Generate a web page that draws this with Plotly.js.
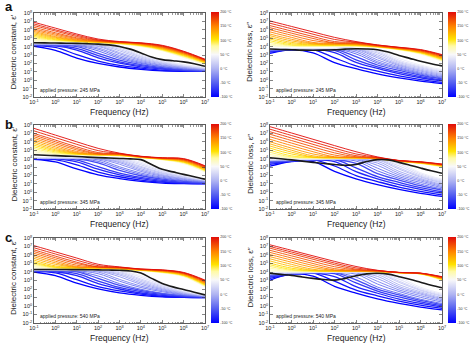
<!DOCTYPE html>
<html><head><meta charset="utf-8">
<script src="https://cdn.plot.ly/plotly-3.0.1.min.js"></script>
<style>html,body{margin:0;padding:0;background:#fff}#chart{width:474px;height:353px}</style>
</head><body><div id="chart"></div>
<script>
// ---- data (values stored as log10 of the quantity) ----
const freqHz = [0.1,1,10,100,1000,1e4,1e5,1e6,1e7];
const freqHzHalf = [0.1,0.3162,1,3.162,10,31.62,100,316.2,1000,3162,1e4,31623,1e5,316228,1e6,3162278,1e7];
const temperaturesC = [-100,-90,-80,-70,-60,-50,-40,-30,-20,-10,0,10,20,30,40,60,70,80,90,100,110,120,130,140,150,160,170,180,190,200];
const blackTempC = 50;
const pressuresMPa = [245,345,540];
const colorbarTicks = [-100,-50,0,50,100,150,200];

const aConstLog = [
[4.04,3.55,2.64,2.0,1.57,1.29,1.11,1.06,1.05],
[4.12,3.9,3.05,2.28,1.76,1.43,1.18,1.09,1.06],
[4.14,4.08,3.59,2.67,2.02,1.59,1.32,1.13,1.08],
[4.16,4.13,3.79,2.93,2.19,1.73,1.39,1.17,1.11],
[4.18,4.18,3.99,3.19,2.39,1.86,1.49,1.24,1.12],
[4.2,4.2,4.11,3.49,2.59,2.0,1.6,1.32,1.16],
[4.22,4.22,4.16,3.69,2.76,2.1,1.64,1.36,1.17],
[4.25,4.25,4.22,3.84,2.94,2.22,1.75,1.43,1.21],
[4.27,4.27,4.26,4.02,3.14,2.35,1.82,1.51,1.26],
[4.3,4.3,4.29,4.11,3.29,2.47,1.93,1.55,1.3],
[4.32,4.32,4.31,4.19,3.5,2.61,2.01,1.63,1.34],
[4.34,4.34,4.33,4.24,3.67,2.75,2.08,1.67,1.38],
[4.36,4.36,4.35,4.3,3.82,2.86,2.19,1.71,1.43],
[4.38,4.38,4.37,4.33,3.93,3.0,2.27,1.82,1.5],
[4.4,4.4,4.39,4.35,4.08,3.15,2.38,1.87,1.55],
[4.62,4.6,4.54,4.45,4.3,4.0,3.5,2.7,1.88],
[4.75,4.65,4.56,4.46,4.32,4.04,3.53,2.75,1.93],
[4.9,4.7,4.58,4.47,4.34,4.07,3.57,2.8,1.98],
[5.05,4.75,4.6,4.48,4.36,4.1,3.6,2.86,2.03],
[5.2,4.82,4.62,4.5,4.38,4.14,3.65,2.92,2.08],
[5.35,4.9,4.65,4.52,4.4,4.17,3.7,2.98,2.13],
[5.5,5.0,4.68,4.55,4.42,4.2,3.75,3.05,2.18],
[5.65,5.1,4.72,4.57,4.44,4.24,3.8,3.1,2.22],
[5.8,5.2,4.78,4.6,4.46,4.27,3.85,3.15,2.26],
[5.95,5.35,4.85,4.62,4.48,4.3,3.9,3.2,2.3],
[6.1,5.5,4.95,4.65,4.5,4.34,3.95,3.25,2.34],
[6.3,5.65,5.05,4.7,4.53,4.37,4.0,3.3,2.38],
[6.5,5.85,5.2,4.75,4.55,4.4,4.05,3.35,2.42],
[6.7,6.0,5.35,4.8,4.57,4.42,4.1,3.4,2.46],
[6.9,6.2,5.5,4.9,4.6,4.45,4.15,3.45,2.5]];
const aConstBlackLog = [4.45,4.44,4.42,4.4,4.38,4.35,4.3,4.2,4.02,3.7,3.25,2.75,2.45,2.32,2.18,1.95,1.65];

const aLossLog = [
[3.2,3.6,3.25,2.1,1.38,0.75,0.27,-0.11,-0.41],
[3.35,3.62,3.65,2.66,1.71,1.07,0.51,0.08,-0.25],
[3.45,3.62,3.7,3.27,2.12,1.4,0.77,0.29,-0.09],
[3.5,3.63,3.7,3.55,2.43,1.59,0.95,0.43,0.02],
[3.55,3.64,3.7,3.71,2.81,1.81,1.17,0.59,0.15],
[3.58,3.65,3.71,3.74,3.13,2.03,1.34,0.72,0.26],
[3.6,3.66,3.72,3.75,3.35,2.2,1.46,0.82,0.34],
[3.62,3.67,3.72,3.76,3.54,2.41,1.59,0.94,0.43],
[3.63,3.68,3.73,3.76,3.68,2.66,1.73,1.08,0.54],
[3.64,3.69,3.73,3.76,3.75,2.84,1.84,1.2,0.66],
[3.65,3.7,3.74,3.77,3.77,3.03,1.97,1.33,0.76],
[3.66,3.7,3.74,3.77,3.78,3.23,2.11,1.46,0.88],
[3.67,3.71,3.75,3.78,3.78,3.38,2.23,1.57,1.0],
[3.68,3.72,3.75,3.78,3.78,3.53,2.38,1.68,1.12],
[3.7,3.73,3.76,3.78,3.78,3.64,2.58,1.8,1.25],
[4.0,4.0,4.0,4.0,3.98,3.9,3.6,3.1,2.25],
[4.15,4.03,4.02,4.02,4.02,3.92,3.62,3.14,2.31],
[4.3,4.08,4.06,4.06,4.05,3.94,3.64,3.18,2.36],
[4.5,4.14,4.1,4.1,4.09,3.95,3.66,3.22,2.42],
[4.7,4.22,4.15,4.14,4.13,3.97,3.69,3.26,2.48],
[4.9,4.35,4.21,4.18,4.17,3.99,3.71,3.3,2.54],
[5.1,4.5,4.27,4.22,4.2,4.01,3.73,3.34,2.59],
[5.3,4.68,4.33,4.26,4.24,4.03,3.75,3.38,2.65],
[5.5,4.87,4.4,4.3,4.28,4.04,3.77,3.41,2.71],
[5.75,5.1,4.5,4.35,4.31,4.06,3.79,3.45,2.76],
[6.0,5.35,4.72,4.42,4.36,4.08,3.81,3.49,2.82],
[6.25,5.6,4.97,4.45,4.39,4.12,3.85,3.53,2.88],
[6.5,5.85,5.2,4.6,4.48,4.15,3.88,3.57,2.94],
[6.78,6.13,5.48,4.85,4.52,4.18,3.9,3.61,2.99],
[7.05,6.4,5.75,5.1,4.6,4.2,3.92,3.65,3.05]];
const aLossBlackLog = [3.72,3.66,3.62,3.58,3.57,3.58,3.62,3.7,3.75,3.72,3.62,3.35,2.95,2.6,2.25,1.95,1.7];

const bConstLog = [
[3.92,3.6,2.77,2.06,1.62,1.3,1.09,1.02,1.0],
[3.97,3.88,3.26,2.4,1.84,1.45,1.19,1.05,1.02],
[3.99,3.96,3.6,2.74,2.06,1.61,1.3,1.11,1.04],
[4.0,4.0,3.82,3.05,2.28,1.77,1.42,1.18,1.06],
[4.02,4.02,3.96,3.48,2.59,1.96,1.55,1.28,1.1],
[4.03,4.03,4.0,3.67,2.84,2.12,1.68,1.35,1.14],
[4.04,4.04,4.03,3.85,3.03,2.28,1.78,1.43,1.19],
[4.05,4.05,4.04,3.96,3.33,2.47,1.9,1.52,1.25],
[4.06,4.06,4.05,4.0,3.52,2.63,2.0,1.59,1.32],
[4.07,4.07,4.06,4.03,3.65,2.79,2.1,1.65,1.36],
[4.08,4.08,4.07,4.05,3.78,2.95,2.23,1.76,1.39],
[4.09,4.09,4.08,4.06,3.9,3.07,2.33,1.82,1.42],
[4.1,4.1,4.09,4.07,3.98,3.26,2.45,1.88,1.44],
[4.11,4.11,4.1,4.08,4.02,3.43,2.54,1.92,1.47],
[4.12,4.12,4.11,4.09,4.06,3.58,2.67,2.0,1.5],
[4.6,4.48,4.45,4.4,4.3,4.1,3.85,3.4,2.4],
[4.8,4.52,4.46,4.41,4.32,4.11,3.87,3.44,2.45],
[5.0,4.58,4.47,4.42,4.34,4.12,3.89,3.49,2.51],
[5.2,4.68,4.49,4.43,4.36,4.13,3.9,3.53,2.56],
[5.4,4.8,4.52,4.44,4.39,4.14,3.92,3.57,2.61],
[5.6,4.93,4.55,4.45,4.41,4.15,3.94,3.61,2.67],
[5.8,5.06,4.6,4.47,4.43,4.16,3.96,3.66,2.72],
[6.0,5.22,4.65,4.48,4.45,4.18,3.98,3.7,2.78],
[6.2,5.4,4.72,4.5,4.47,4.19,3.99,3.74,2.83],
[6.4,5.6,4.85,4.52,4.49,4.2,4.01,3.79,2.88],
[6.6,5.8,5.03,4.56,4.51,4.21,4.03,3.83,2.94],
[6.8,6.0,5.2,4.6,4.53,4.22,4.05,3.87,2.99],
[7.0,6.2,5.4,4.72,4.56,4.24,4.06,3.91,3.04],
[7.3,6.5,5.7,4.95,4.6,4.26,4.08,3.96,3.1],
[7.6,6.8,6.0,5.22,4.65,4.28,4.1,4.0,3.15]];
const bConstBlackLog = [4.45,4.4,4.35,4.3,4.25,4.18,4.12,4.07,4.02,3.97,3.88,3.3,2.72,2.42,2.12,1.85,1.55];

const bLossLog = [
[3.1,3.65,3.65,2.48,1.59,0.9,0.33,-0.13,-0.49],
[3.3,3.68,3.85,3.12,1.98,1.27,0.61,0.1,-0.31],
[3.45,3.7,3.84,3.64,2.46,1.59,0.89,0.33,-0.12],
[3.55,3.72,3.85,3.87,2.9,1.86,1.17,0.54,0.05],
[3.62,3.74,3.86,3.89,3.42,2.22,1.45,0.77,0.24],
[3.68,3.76,3.87,3.9,3.71,2.54,1.65,0.96,0.39],
[3.72,3.78,3.88,3.91,3.88,2.86,1.84,1.16,0.54],
[3.75,3.8,3.89,3.92,3.93,3.19,2.05,1.34,0.68],
[3.77,3.82,3.9,3.93,3.94,3.46,2.26,1.49,0.81],
[3.79,3.84,3.91,3.94,3.95,3.68,2.48,1.63,0.93],
[3.81,3.86,3.92,3.95,3.96,3.85,2.75,1.79,1.09],
[3.83,3.88,3.93,3.96,3.97,3.93,2.91,1.89,1.21],
[3.85,3.9,3.94,3.97,3.98,3.98,3.13,2.03,1.33],
[3.87,3.92,3.95,3.98,3.99,3.99,3.35,2.18,1.44],
[3.89,3.94,3.96,3.99,4.0,4.0,3.52,2.32,1.55],
[4.1,4.06,4.05,4.05,4.04,3.95,3.65,3.4,3.0],
[4.3,4.09,4.07,4.06,4.05,3.96,3.66,3.42,3.03],
[4.5,4.13,4.08,4.07,4.06,3.97,3.66,3.43,3.05],
[4.75,4.2,4.1,4.08,4.07,3.98,3.67,3.45,3.08],
[5.0,4.33,4.12,4.09,4.08,3.99,3.68,3.46,3.1],
[5.25,4.55,4.15,4.1,4.09,4.0,3.69,3.48,3.13],
[5.5,4.77,4.2,4.11,4.09,4.01,3.69,3.49,3.15],
[5.75,5.0,4.33,4.13,4.1,4.03,3.7,3.51,3.18],
[6.0,5.25,4.55,4.16,4.11,4.04,3.71,3.53,3.2],
[6.3,5.55,4.82,4.22,4.13,4.05,3.71,3.54,3.23],
[6.6,5.85,5.1,4.42,4.16,4.06,3.72,3.56,3.25],
[6.9,6.15,5.4,4.68,4.22,4.08,3.74,3.57,3.28],
[7.2,6.45,5.7,4.96,4.35,4.11,3.75,3.59,3.3],
[7.5,6.75,6.0,5.25,4.55,4.15,3.76,3.6,3.33],
[7.8,7.05,6.3,5.55,4.82,4.2,3.78,3.62,3.35]];
const bLossBlackLog = [4.1,3.98,3.85,3.7,3.55,3.42,3.3,3.2,3.3,3.65,3.88,3.85,3.55,3.22,2.88,2.55,2.25];

const cConstLog = [
[4.0,3.56,2.68,2.01,1.55,1.26,1.08,1.02,1.0],
[4.07,3.89,3.09,2.29,1.77,1.4,1.15,1.03,1.0],
[4.09,4.03,3.57,2.64,2.0,1.53,1.26,1.07,1.02],
[4.11,4.1,3.8,2.94,2.19,1.7,1.36,1.14,1.05],
[4.13,4.13,4.01,3.26,2.43,1.84,1.46,1.19,1.06],
[4.15,4.15,4.07,3.53,2.63,1.97,1.5,1.22,1.07],
[4.17,4.17,4.14,3.8,2.92,2.17,1.68,1.3,1.1],
[4.19,4.19,4.17,3.99,3.13,2.34,1.8,1.36,1.13],
[4.2,4.2,4.19,4.11,3.45,2.54,1.92,1.42,1.15],
[4.22,4.22,4.21,4.16,3.65,2.71,2.02,1.5,1.18],
[4.23,4.23,4.22,4.18,3.79,2.88,2.12,1.56,1.2],
[4.24,4.24,4.23,4.2,3.93,3.04,2.24,1.62,1.22],
[4.25,4.25,4.24,4.21,4.04,3.18,2.36,1.68,1.24],
[4.26,4.26,4.25,4.23,4.13,3.38,2.48,1.74,1.27],
[4.27,4.27,4.26,4.24,4.17,3.56,2.6,1.8,1.29],
[4.45,4.41,4.4,4.39,4.3,4.15,3.9,3.45,2.25],
[4.6,4.43,4.42,4.41,4.32,4.16,3.92,3.49,2.31],
[4.75,4.46,4.44,4.43,4.34,4.18,3.95,3.52,2.36],
[4.9,4.5,4.45,4.44,4.35,4.19,3.97,3.56,2.42],
[5.05,4.54,4.47,4.46,4.37,4.21,4.0,3.59,2.48],
[5.2,4.6,4.49,4.47,4.39,4.22,4.02,3.63,2.54],
[5.4,4.72,4.52,4.49,4.41,4.24,4.05,3.66,2.59],
[5.6,4.9,4.54,4.5,4.43,4.25,4.08,3.7,2.65],
[5.8,5.08,4.57,4.52,4.45,4.26,4.1,3.74,2.71],
[6.0,5.27,4.65,4.55,4.47,4.28,4.13,3.77,2.76],
[6.2,5.47,4.8,4.57,4.49,4.29,4.15,3.81,2.82],
[6.4,5.67,4.98,4.6,4.51,4.31,4.18,3.84,2.88],
[6.6,5.87,5.15,4.6,4.53,4.32,4.2,3.88,2.94],
[6.85,6.12,5.39,4.75,4.56,4.34,4.23,3.91,2.99],
[7.1,6.37,5.64,4.91,4.6,4.35,4.25,3.95,3.05]];
const cConstBlackLog = [4.3,4.3,4.3,4.29,4.28,4.27,4.25,4.23,4.2,4.12,3.88,3.25,2.65,2.25,1.95,1.62,1.3];

const cLossLog = [
[3.05,3.75,3.51,2.32,1.52,0.84,0.31,-0.12,-0.46],
[3.25,3.72,3.87,2.92,1.88,1.2,0.58,0.1,-0.28],
[3.4,3.73,3.87,3.47,2.28,1.5,0.82,0.3,-0.13],
[3.5,3.75,3.88,3.8,2.71,1.76,1.07,0.49,0.03],
[3.57,3.77,3.89,3.92,3.08,1.99,1.3,0.66,0.17],
[3.62,3.79,3.9,3.93,3.4,2.23,1.47,0.8,0.29],
[3.66,3.81,3.91,3.94,3.74,2.58,1.7,1.02,0.46],
[3.7,3.83,3.92,3.95,3.91,2.9,1.89,1.22,0.61],
[3.73,3.85,3.93,3.96,3.96,3.22,2.1,1.4,0.75],
[3.76,3.87,3.94,3.96,3.96,3.48,2.29,1.53,0.86],
[3.79,3.89,3.95,3.97,3.97,3.7,2.51,1.67,0.98],
[3.82,3.91,3.96,3.98,3.98,3.87,2.78,1.83,1.14],
[3.85,3.93,3.97,3.98,3.98,3.94,2.93,1.92,1.25],
[3.88,3.95,3.98,3.99,3.99,3.99,3.15,2.06,1.37],
[3.9,3.96,3.98,4.0,4.0,4.0,3.37,2.21,1.48],
[4.05,4.05,4.05,4.05,4.05,4.0,3.9,3.75,3.0],
[4.25,4.08,4.06,4.06,4.06,4.01,3.9,3.76,3.03],
[4.45,4.12,4.07,4.07,4.06,4.02,3.91,3.77,3.06],
[4.65,4.2,4.09,4.08,4.07,4.03,3.91,3.78,3.1],
[4.85,4.3,4.12,4.09,4.08,4.04,3.91,3.78,3.13],
[5.05,4.45,4.15,4.1,4.09,4.05,3.92,3.79,3.16],
[5.3,4.66,4.2,4.11,4.1,4.06,3.92,3.8,3.19],
[5.55,4.9,4.32,4.14,4.11,4.08,3.93,3.81,3.23],
[5.8,5.15,4.53,4.18,4.13,4.09,3.93,3.82,3.26],
[6.05,5.4,4.76,4.25,4.15,4.1,3.93,3.83,3.29],
[6.3,5.65,5.0,4.4,4.19,4.12,3.94,3.84,3.32],
[6.55,5.9,5.25,4.62,4.25,4.13,3.94,3.84,3.35],
[6.8,6.15,5.5,4.86,4.33,4.15,3.94,3.85,3.39],
[7.0,6.35,5.7,5.05,4.48,4.18,3.95,3.86,3.42],
[7.2,6.55,5.9,5.25,4.65,4.2,3.95,3.87,3.45]];
const cLossBlackLog = [3.85,3.72,3.6,3.42,3.25,3.12,3.05,3.25,3.55,3.78,3.85,3.75,3.45,3.15,2.8,2.45,2.15];

const xTickVals = [0.1,1,10,100,1e3,1e4,1e5,1e6,1e7];
const xTickText = ['10<sup>-1</sup>','10<sup>0</sup>','10<sup>1</sup>','10<sup>2</sup>','10<sup>3</sup>','10<sup>4</sup>','10<sup>5</sup>','10<sup>6</sup>','10<sup>7</sup>'];
const yTickVals = [1e-2,1e-1,1,10,100,1e3,1e4,1e5,1e6,1e7,1e8];
const yTickText = ['10<sup>-2</sup>','10<sup>-1</sup>','10<sup>0</sup>','10<sup>1</sup>','10<sup>2</sup>','10<sup>3</sup>','10<sup>4</sup>','10<sup>5</sup>','10<sup>6</sup>','10<sup>7</sup>','10<sup>8</sup>'];

// ---- style ----
const W = 474, H = 353;
const stops = [[0,[0,0,255]],[0.167,[85,95,240]],[0.333,[175,180,242]],[0.5,[248,248,250]],[0.6,[255,250,165]],[0.68,[255,226,0]],[0.833,[255,130,0]],[1,[225,12,10]]];
const colorscale = stops.map(s => [s[0], 'rgb(' + s[1].join(',') + ')']);
function colorFor(t) {
  const f = (t + 100) / 300;
  for (let i = 0; i < stops.length - 1; i++) {
    const a = stops[i], b = stops[i + 1];
    if (f >= a[0] && f <= b[0]) {
      const u = (f - a[0]) / (b[0] - a[0]);
      const c = a[1].map((v, k) => Math.round(v + (b[1][k] - v) * u));
      return 'rgb(' + c.join(',') + ')';
    }
  }
  return 'rgb(225,12,10)';
}

const panels = [aConstLog, aLossLog, bConstLog, bLossLog, cConstLog, cLossLog];
const blacks = [aConstBlackLog, aLossBlackLog, bConstBlackLog, bLossBlackLog, cConstBlackLog, cLossBlackLog];
const xDomPx = [[34,205],[270,442]];
const yDomPx = [[13,97],[125,209],[238,323]];
const cbX = [211, 448];
const font = 'Arial, "Liberation Sans", sans-serif';

const xMinor = [];
for (let e = -1; e < 7; e++) for (let m = 2; m <= 9; m++) xMinor.push(m * Math.pow(10, e));

const traces = [];
const layout = {
  width: W, height: H, margin: {l:0, r:0, t:0, b:0},
  paper_bgcolor: '#fff', plot_bgcolor: '#fff', showlegend: false,
  font: {family: font, color: '#222'},
  annotations: []
};

panels.forEach((rows, p) => {
  const row = Math.floor(p / 2), col = p % 2;
  const suf = p === 0 ? '' : String(p + 1);
  const xa = 'x' + suf, ya = 'y' + suf;
  rows.forEach((vals, i) => {
    const t = temperaturesC[i];
    traces.push({
      type: 'scatter', mode: 'lines', x: freqHz, y: vals.map(v => Math.pow(10, v)),
      xaxis: xa, yaxis: ya, hoverinfo: 'skip',
      line: {color: colorFor(t), width: t <= -60 ? 1.3 : 0.9, shape: 'spline', smoothing: 1}
    });
  });
  traces.push({
    type: 'scatter', mode: 'lines', x: freqHzHalf, y: blacks[p].map(v => Math.pow(10, v)),
    xaxis: xa, yaxis: ya, hoverinfo: 'skip', name: blackTempC + ' °C',
    line: {color: '#1a1a1a', width: 1.6, shape: 'spline', smoothing: 1}
  });
  const yd = yDomPx[row];
  traces.push({
    type: 'scatter', mode: 'markers', x: [1], y: [1], xaxis: xa, yaxis: ya, hoverinfo: 'skip',
    marker: {size: 1, opacity: 0, color: [0], cmin: -100, cmax: 200, colorscale: colorscale, showscale: true,
      colorbar: {x: cbX[col] / W, xanchor: 'left', xpad: 0, ypad: 0,
        y: 1 - ((yd[0] - 1 + yd[1]) / 2) / H, yanchor: 'middle', len: (yd[1] - yd[0] + 1) / H, lenmode: 'fraction',
        thickness: 8, thicknessmode: 'pixels', outlinewidth: 0,
        tickvals: colorbarTicks, ticktext: colorbarTicks.map(v => v + ' °C'), ticks: '',
        tickfont: {size: 3.6, color: '#333', family: font}}}
  });
  const axCommon = {
    type: 'log', showline: true, linecolor: '#333', linewidth: 0.8, mirror: 'allticks',
    ticks: 'inside', ticklen: 3, tickwidth: 0.6, tickcolor: '#333', showgrid: false, zeroline: false,
    tickfont: {size: 5.5, color: '#222', family: font}, tickmode: 'array'
  };
  layout['xaxis' + suf] = Object.assign({}, axCommon, {
    domain: [xDomPx[col][0] / W, xDomPx[col][1] / W], range: [-1, 7], anchor: ya,
    tickvals: xTickVals, ticktext: xTickText,
    minor: {tickmode: 'array', tickvals: xMinor, ticks: 'inside', ticklen: 1.5, tickwidth: 0.5, tickcolor: '#333', showgrid: false}
  });
  layout['yaxis' + suf] = Object.assign({}, axCommon, {
    domain: [1 - yd[1] / H, 1 - yd[0] / H], range: [-2, 8], anchor: xa,
    tickvals: yTickVals, ticktext: yTickText
  });
  const cx = (xDomPx[col][0] + xDomPx[col][1]) / 2;
  layout.annotations.push({xref: 'paper', yref: 'paper', x: cx / W, y: 1 - (yd[1] + 15) / H,
    text: 'Frequency (Hz)', showarrow: false, xanchor: 'center', yanchor: 'middle', font: {size: 8.5, color: '#222', family: font}});
  layout.annotations.push({xref: 'paper', yref: 'paper', x: (col === 0 ? 13.5 : 250) / W, y: 1 - ((yd[0] + yd[1]) / 2 - 3) / H,
    text: col === 0 ? 'Dielectric constant, ε′' : 'Dielectric loss, ε″', textangle: -90, showarrow: false,
    xanchor: 'center', yanchor: 'middle', font: {size: 8, color: '#222', family: font}});
  layout.annotations.push({xref: 'paper', yref: 'paper', x: (xDomPx[col][0] + 4) / W, y: 1 - (yd[1] - 7) / H,
    text: 'applied pressure: ' + pressuresMPa[row] + ' MPa', showarrow: false, xanchor: 'left', yanchor: 'middle',
    font: {size: 5, color: '#222', family: font}});
});
['a','b','c'].forEach((l, r) => {
  layout.annotations.push({xref: 'paper', yref: 'paper', x: 8.5 / W, y: 1 - [6.5, 124.5, 237.5][r] / H, text: '<b>' + l + '</b>',
    showarrow: false, xanchor: 'center', yanchor: 'middle', font: {size: 13, color: '#111', family: font}});
});

Plotly.newPlot('chart', traces, layout, {staticPlot: true, displayModeBar: false});
</script></body></html>
